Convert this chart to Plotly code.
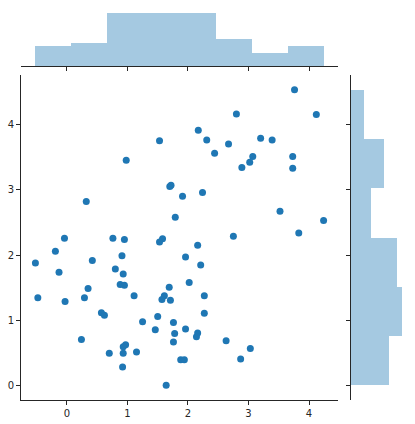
import numpy as np
import plotly.graph_objects as go

x_vals = [1.53, 0.98, 0.32, 1.70, 1.72, 1.91, 1.79, -0.04, 0.76, 0.95, 1.58, 1.53,
          3.76, 2.80, 4.12, 2.17, 2.31, 2.67, 3.20, 3.39, 2.44, 3.07, 3.02, 2.89,
          3.73, 3.73, 2.24, 3.52, 4.24, 2.75, 3.83, 2.16, -0.19, -0.52, 0.42, 0.91,
          1.96, -0.13, 0.80, 0.93, 0.88, 0.95, 2.02, 1.69, 0.35, -0.48, -0.03, 0.29,
          1.11, 1.61, 1.57, 1.71, 0.57, 0.62, 1.25, 1.50, 1.46, 1.76, 1.96, 1.78,
          1.76, 0.24, 0.97, 0.93, 0.70, 0.93, 1.15, 1.88, 1.94, 0.92, 1.64, 2.21,
          2.27, 2.27, 2.16, 2.14, 2.63, 3.03, 2.87]
y_vals = [3.75, 3.45, 2.82, 3.05, 3.07, 2.90, 2.58, 2.26, 2.26, 2.24, 2.25, 2.20,
          4.53, 4.16, 4.15, 3.91, 3.76, 3.70, 3.79, 3.76, 3.56, 3.51, 3.42, 3.34,
          3.51, 3.33, 2.96, 2.67, 2.53, 2.29, 2.34, 2.15, 2.06, 1.88, 1.92, 1.99,
          1.97, 1.74, 1.79, 1.71, 1.55, 1.54, 1.58, 1.51, 1.49, 1.35, 1.29, 1.35,
          1.38, 1.38, 1.32, 1.31, 1.12, 1.08, 0.98, 1.06, 0.86, 0.97, 0.87, 0.80,
          0.67, 0.71, 0.63, 0.60, 0.50, 0.50, 0.52, 0.40, 0.40, 0.29, 0.01, 1.85,
          1.38, 1.11, 0.81, 0.75, 0.69, 0.57, 0.41]
x_ticks = [0, 1, 2, 3, 4]
y_ticks = [0, 1, 2, 3, 4]
x_bins = 8
y_bins = 6

x = np.array(x_vals)
y = np.array(y_vals)
cx, ex = np.histogram(x, bins=x_bins)
cy, ey = np.histogram(y, bins=y_bins)

def pad(a):
    lo, hi = a.min(), a.max()
    m = (hi - lo) * 0.05
    return [lo - m, hi + m]

xr = pad(x)
yr = pad(y)

blue = '#1f77b4'
hist_col = 'rgba(31,119,180,0.4)'
axcol = '#262626'
font = dict(family='DejaVu Sans', size=10, color=axcol)

fig = go.Figure()
fig.add_trace(go.Scatter(x=x, y=y, mode='markers',
                         marker=dict(color=blue, size=7, line=dict(width=0)),
                         xaxis='x', yaxis='y', showlegend=False))
fig.add_trace(go.Bar(x=(ex[:-1] + ex[1:]) / 2, y=cx, width=np.diff(ex),
                     marker=dict(color=hist_col, line=dict(width=0)),
                     xaxis='x2', yaxis='y2', showlegend=False))
fig.add_trace(go.Bar(y=(ey[:-1] + ey[1:]) / 2, x=cy, width=np.diff(ey), orientation='h',
                     marker=dict(color=hist_col, line=dict(width=0)),
                     xaxis='x3', yaxis='y3', showlegend=False))

W, H = 415, 424
main_x = [21 / W, 338 / W]
main_y = [(H - 400) / H, (H - 75) / H]
top_y = [(H - 66) / H, 1.0]
right_x = [351 / W, 1.0]

common = dict(showgrid=False, zeroline=False, linecolor=axcol, linewidth=1,
              tickcolor=axcol, ticklen=4, tickwidth=1, tickfont=font, automargin=False)

fig.update_layout(
    width=W, height=H, margin=dict(l=0, r=0, t=0, b=0),
    paper_bgcolor='white', plot_bgcolor='white', bargap=0,
    xaxis=dict(domain=main_x, range=xr, tickvals=x_ticks, ticks='outside',
               showline=True, anchor='y', **common),
    yaxis=dict(domain=main_y, range=yr, tickvals=y_ticks, ticks='outside',
               showline=True, anchor='x', **common),
    xaxis2=dict(domain=main_x, range=xr, tickvals=x_ticks, ticks='outside',
                showline=True, showticklabels=False, anchor='y2', **common),
    yaxis2=dict(domain=top_y, range=[0, cx.max() * 66 / 53.3], visible=False,
                anchor='x2', automargin=False),
    xaxis3=dict(domain=right_x, range=[0, cy.max() * 64 / 51], visible=False,
                anchor='y3', automargin=False),
    yaxis3=dict(domain=main_y, range=yr, tickvals=y_ticks, ticks='outside',
                showline=True, showticklabels=False, anchor='x3', **common),
)

fig.write_html('out.html', config={'displayModeBar': False},
               post_script="document.body.style.margin='0';document.body.style.overflow='hidden';")
